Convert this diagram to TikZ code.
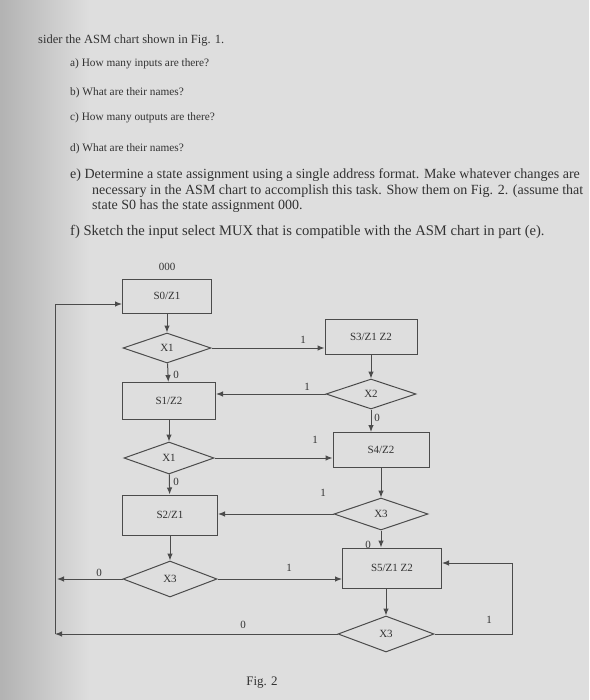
\documentclass[tikz,border=0pt]{standalone}
\usepackage{fontspec}
\setmainfont{Liberation Serif}
\usetikzlibrary{shapes.geometric,arrows.meta}
\definecolor{linec}{RGB}{75,75,75}
\definecolor{txtc}{RGB}{50,50,50}
\definecolor{bgc}{RGB}{222,222,222}
\begin{document}
\begin{tikzpicture}[x=1pt,y=-1pt,
  box/.style={draw=linec, line width=1pt, inner sep=0pt, text=txtc, font=\fontsize{11}{12}\selectfont},
  dia/.style={diamond, aspect=3, draw=linec, line width=1pt, inner sep=0pt, text=txtc, font=\fontsize{11}{12}\selectfont},
  conn/.style={draw=linec, line width=1pt},
  arr/.style={conn, -{Latex[length=7pt,width=5.5pt]}},
  lab/.style={text=txtc, font=\fontsize{11}{13}\selectfont, inner sep=0pt},
  qtext/.style={text=txtc, anchor=base west, inner sep=0pt}]
\fill[bgc] (0,0) rectangle (589,700);
\shade[left color=gray!60, right color=bgc, draw=none] (0,0) rectangle (90,700);
\fill[bgc] (90,0) rectangle (589,700);

% question text
\node[qtext, font=\fontsize{12.5}{14}\selectfont] (t0) at (38,44) {sider the ASM chart shown in Fig. 1.};
\node[qtext, font=\fontsize{11.3}{13}\selectfont] (ta) at (70,67) {a) How many inputs are there?};
\node[qtext, font=\fontsize{11.3}{13}\selectfont] (tb) at (70,96) {b) What are their names?};
\node[qtext, font=\fontsize{11.3}{13}\selectfont] (tc) at (70,121) {c) How many outputs are there?};
\node[qtext, font=\fontsize{11.3}{13}\selectfont] (td) at (70,152) {d) What are their names?};
\node[qtext, font=\fontsize{14}{15}\selectfont] (te1) at (70,179) {e) Determine a state assignment using a single address format. Make whatever changes are};
\node[qtext, font=\fontsize{14}{15}\selectfont] (te2) at (92,195) {necessary in the ASM chart to accomplish this task. Show them on Fig. 2. (assume that};
\node[qtext, font=\fontsize{14}{15}\selectfont] (te3) at (92,210) {state S0 has the state assignment 000.};
\node[qtext, font=\fontsize{14.6}{16}\selectfont] (tf) at (70,236) {f) Sketch the input select MUX that is compatible with the ASM chart in part (e).};

% chart
\node[lab] (code) at (167,267) {000};
\node[box, minimum width=89pt, minimum height=34pt] (s0) at (167,296) {S0/Z1};
\node[dia, minimum width=88pt, minimum height=30pt] (x1a) at (167,348) {X1};
\node[box, minimum width=92pt, minimum height=35pt] (s3) at (371,337) {S3/Z1 Z2};
\node[box, minimum width=93pt, minimum height=37pt] (s1) at (169,401) {S1/Z2};
\node[dia, minimum width=90pt, minimum height=30pt] (x2) at (371,394) {X2};
\node[dia, minimum width=90pt, minimum height=32pt] (x1b) at (169,458) {X1};
\node[box, minimum width=96pt, minimum height=35pt] (s4) at (381,450) {S4/Z2};
\node[box, minimum width=95pt, minimum height=40pt] (s2) at (170,515) {S2/Z1};
\node[dia, minimum width=94pt, minimum height=32pt] (x3a) at (381,514) {X3};
\node[dia, minimum width=94pt, minimum height=36pt] (x3b) at (170,579) {X3};
\node[box, minimum width=99pt, minimum height=40pt] (s5) at (392,568) {S5/Z1 Z2};
\node[dia, minimum width=96pt, minimum height=36pt] (x3c) at (386,634) {X3};
\coordinate (lefta) at (57,579);
\coordinate (leftb) at (55,634);
\coordinate (lefttop) at (55,304);
\coordinate (rightb) at (512,634);
\coordinate (righttop) at (512,563);

% connectors
\draw[arr] (s0) -- (x1a);
\draw[arr] (x1a.east) -- (s3.west |- x1a.east);
\draw[arr] (x1a) -- (s1);
\draw[arr] (s3.south -| x2.north) -- (x2);
\draw[arr] (x2.west) -- (s1.east |- x2.west);
\draw[arr] (x2.south) -- (x2.south |- s4.north);
\draw[arr] (s1) -- (x1b);
\draw[arr] (x1b.east) -- (s4.west |- x1b.east);
\draw[arr] (x1b) -- (s2);
\draw[arr] (s4.south -| x3a.north) -- (x3a);
\draw[arr] (x3a.west) -- (s2.east |- x3a.west);
\draw[arr] (s2) -- (x3b);
\draw[arr] (x3b.west) -- (lefta);
\draw[arr] (x3b.east) -- (s5.west |- x3b.east);
\draw[arr] (x3a.south) -- (x3a.south |- s5.north);
\draw[arr] (s5.south -| x3c.north) -- (x3c);
\draw[arr] (x3c.east) -- (rightb) -- (righttop) -- (s5.east |- righttop);
\draw[arr] (x3c.west) -- (leftb);
\draw[arr] (leftb) -- (lefttop) -- (s0.west |- lefttop);

% labels
\node[lab] (l1) at (303,340) {1};
\node[lab] (l2) at (176,375) {0};
\node[lab] (l3) at (307,387) {1};
\node[lab] (l4) at (377,418) {0};
\node[lab] (l5) at (315,440) {1};
\node[lab] (l6) at (176,482) {0};
\node[lab] (l7) at (323,493) {1};
\node[lab] (l8) at (99,573) {0};
\node[lab] (l9) at (289,568) {1};
\node[lab] (l10) at (368,545) {0};
\node[lab] (l11) at (489,620) {1};
\node[lab] (l12) at (243,625) {0};
\node[lab, font=\fontsize{13}{15}\selectfont] (fig) at (262,683) {Fig. 2};
\end{tikzpicture}
\end{document}
